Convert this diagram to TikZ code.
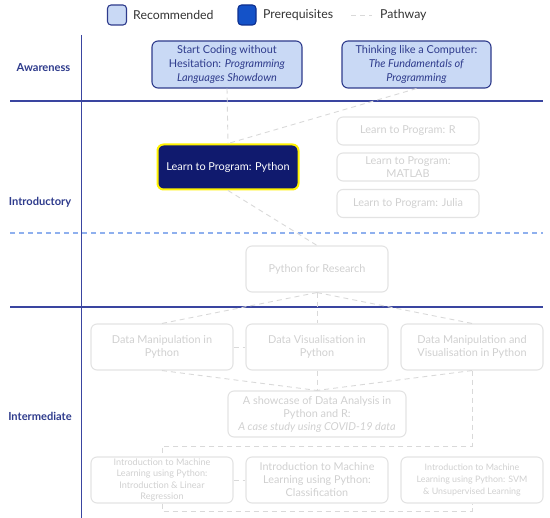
\documentclass[tikz,border=0pt]{standalone}
\usepackage{fontspec}
\setmainfont{Lato}
\definecolor{navy}{HTML}{2E3B8C}
\definecolor{axisc}{HTML}{3A45A0}
\definecolor{recfill}{HTML}{C9D9F5}
\definecolor{prefill}{HTML}{1452C8}
\definecolor{preborder}{HTML}{0E2F8F}
\definecolor{pyfill}{HTML}{101A6E}
\definecolor{fadeb}{HTML}{E3E3E3}
\definecolor{fadet}{HTML}{D0D0D0}
\definecolor{pathc}{HTML}{D9D9D9}
\definecolor{bluedash}{HTML}{8FB0EE}
\tikzset{
  recbox/.style={draw=navy, fill=recfill, line width=1.1pt, rounded corners=6pt, align=center, text=navy, font=\fontsize{10.9}{13.7}\selectfont, inner sep=0pt},
  pybox/.style={draw=yellow, fill=pyfill, line width=2pt, rounded corners=6pt, align=center, text=white, font=\fontsize{10.9}{13}\selectfont, inner sep=0pt},
  fadebox/.style={draw=fadeb, line width=1.1pt, rounded corners=6pt, align=center, text=fadet, font=\fontsize{10.9}{13}\selectfont, inner sep=0pt},
  pathline/.style={draw=pathc, dashed, dash pattern=on 5pt off 4pt, line width=0.9pt},
  axisline/.style={draw=axisc, line width=1.2pt},
  lvl/.style={text=navy, font=\fontsize{11.1}{13}\selectfont\bfseries},
  legtext/.style={text=black!80, font=\fontsize{12.3}{14}\selectfont, anchor=west, inner sep=0pt}
}
\begin{document}
\begin{tikzpicture}[x=1pt,y=-1pt]
\useasboundingbox (0,0) rectangle (550,518);
% axes
\draw[axisline] (81.5,35) coordinate (vt) -- (81.5,518) coordinate (vb);
\draw[axisline] (10,101) coordinate (h1a) -- (543,101) coordinate (h1b);
\draw[axisline] (10,307) coordinate (h2a) -- (543,307) coordinate (h2b);
\draw[draw=bluedash, line width=1.1pt, dash pattern=on 5pt off 4pt] (10,233) coordinate (h3a) -- (543,233) coordinate (h3b);
% level labels
\node[lvl] (lA) at (43.5,68) {Awareness};
\node[lvl] (lI) at (40,202) {Introductory};
\node[lvl] (lM) at (40,416) {Intermediate};
% legend
\node[draw=navy, fill=recfill, line width=1.1pt, rounded corners=3.5pt, minimum width=19pt, minimum height=20pt, inner sep=0pt] (legR) at (117,15) {};
\node[legtext] (legRt) at (133,15) {Recommended};
\node[draw=preborder, fill=prefill, line width=1.1pt, rounded corners=3.5pt, minimum width=18pt, minimum height=20pt, inner sep=0pt] (legP) at (247,15) {};
\node[legtext] (legPt) at (263,15) {Prerequisites};
\coordinate (legDa) at (351,15);
\coordinate (legDb) at (372,15);
\draw[pathline] (legDa) -- (legDb);
\node[legtext] (legDt) at (380,15) {Pathway};
% awareness
\node[recbox, minimum width=150pt, minimum height=47pt] (aw1) at (227,64.5) {Start Coding without\\Hesitation: \textit{Programming}\\\textit{Languages Showdown}};
\node[recbox, minimum width=149pt, minimum height=47pt] (aw2) at (416.5,64.5) {Thinking like a Computer:\\\textit{The Fundamentals of}\\\textit{Programming}};
% introductory
\node[pybox, minimum width=141pt, minimum height=45pt] (py) at (228,167) {Learn to Program: Python};
\node[fadebox, minimum width=142pt, minimum height=28pt] (lr) at (408,131) {Learn to Program: R};
\node[fadebox, minimum width=142pt, minimum height=28pt, font=\fontsize{10.9}{12.5}\selectfont] (lm) at (408,167) {Learn to Program:\\MATLAB};
\node[fadebox, minimum width=142pt, minimum height=28pt] (lj) at (408,203.5) {Learn to Program: Julia};
\node[fadebox, minimum width=142pt, minimum height=46pt] (pfr) at (317,269) {Python for Research};
% intermediate
\node[fadebox, minimum width=142pt, minimum height=46pt] (dm) at (162,347) {Data Manipulation in\\Python};
\node[fadebox, minimum width=142pt, minimum height=46pt] (dv) at (317,347) {Data Visualisation in\\Python};
\node[fadebox, minimum width=142pt, minimum height=46pt] (dmv) at (472,347) {Data Manipulation and\\Visualisation in Python};
\node[fadebox, minimum width=178pt, minimum height=46pt] (sc) at (317,414) {A showcase of Data Analysis in\\Python and R:\\\textit{A case study using COVID-19 data}};
\node[fadebox, minimum width=142pt, minimum height=46pt, font=\fontsize{9.1}{11.3}\selectfont] (ml1) at (162,480) {Introduction to Machine\\Learning using Python:\\Introduction \& Linear\\Regression};
\node[fadebox, minimum width=142pt, minimum height=46pt, font=\fontsize{10.8}{13}\selectfont] (ml2) at (317,480) {Introduction to Machine\\Learning using Python:\\Classification};
\node[fadebox, minimum width=142pt, minimum height=46pt, font=\fontsize{8.9}{12.2}\selectfont] (ml3) at (472,480) {Introduction to Machine\\Learning using Python: SVM\\\& Unsupervised Learning};
% pathways
\draw[pathline] (aw1.south) -- (py.north);
\draw[pathline] (aw2.south) -- (py.north);
\draw[pathline] (py.south) -- (pfr.north);
\draw[pathline] (pfr.south) -- (dm.north);
\draw[pathline] (pfr.south) -- (dv.north);
\draw[pathline] (pfr.south) -- (dmv.north);
\draw[pathline] (dm.east) -- (dv.west);
\draw[pathline] (dm.south) -- (sc.north);
\draw[pathline] (dv.south) -- (sc.north);
\draw[pathline] (dmv.south) -- (sc.north);
\draw[pathline] (dmv.south) |- (162,446) -- (ml1.north);
\draw[pathline] (ml1.east) -- (ml2.west);
\draw[pathline] (ml1.south) -- (162,511) -| (ml3.south);
\end{tikzpicture}
\end{document}
